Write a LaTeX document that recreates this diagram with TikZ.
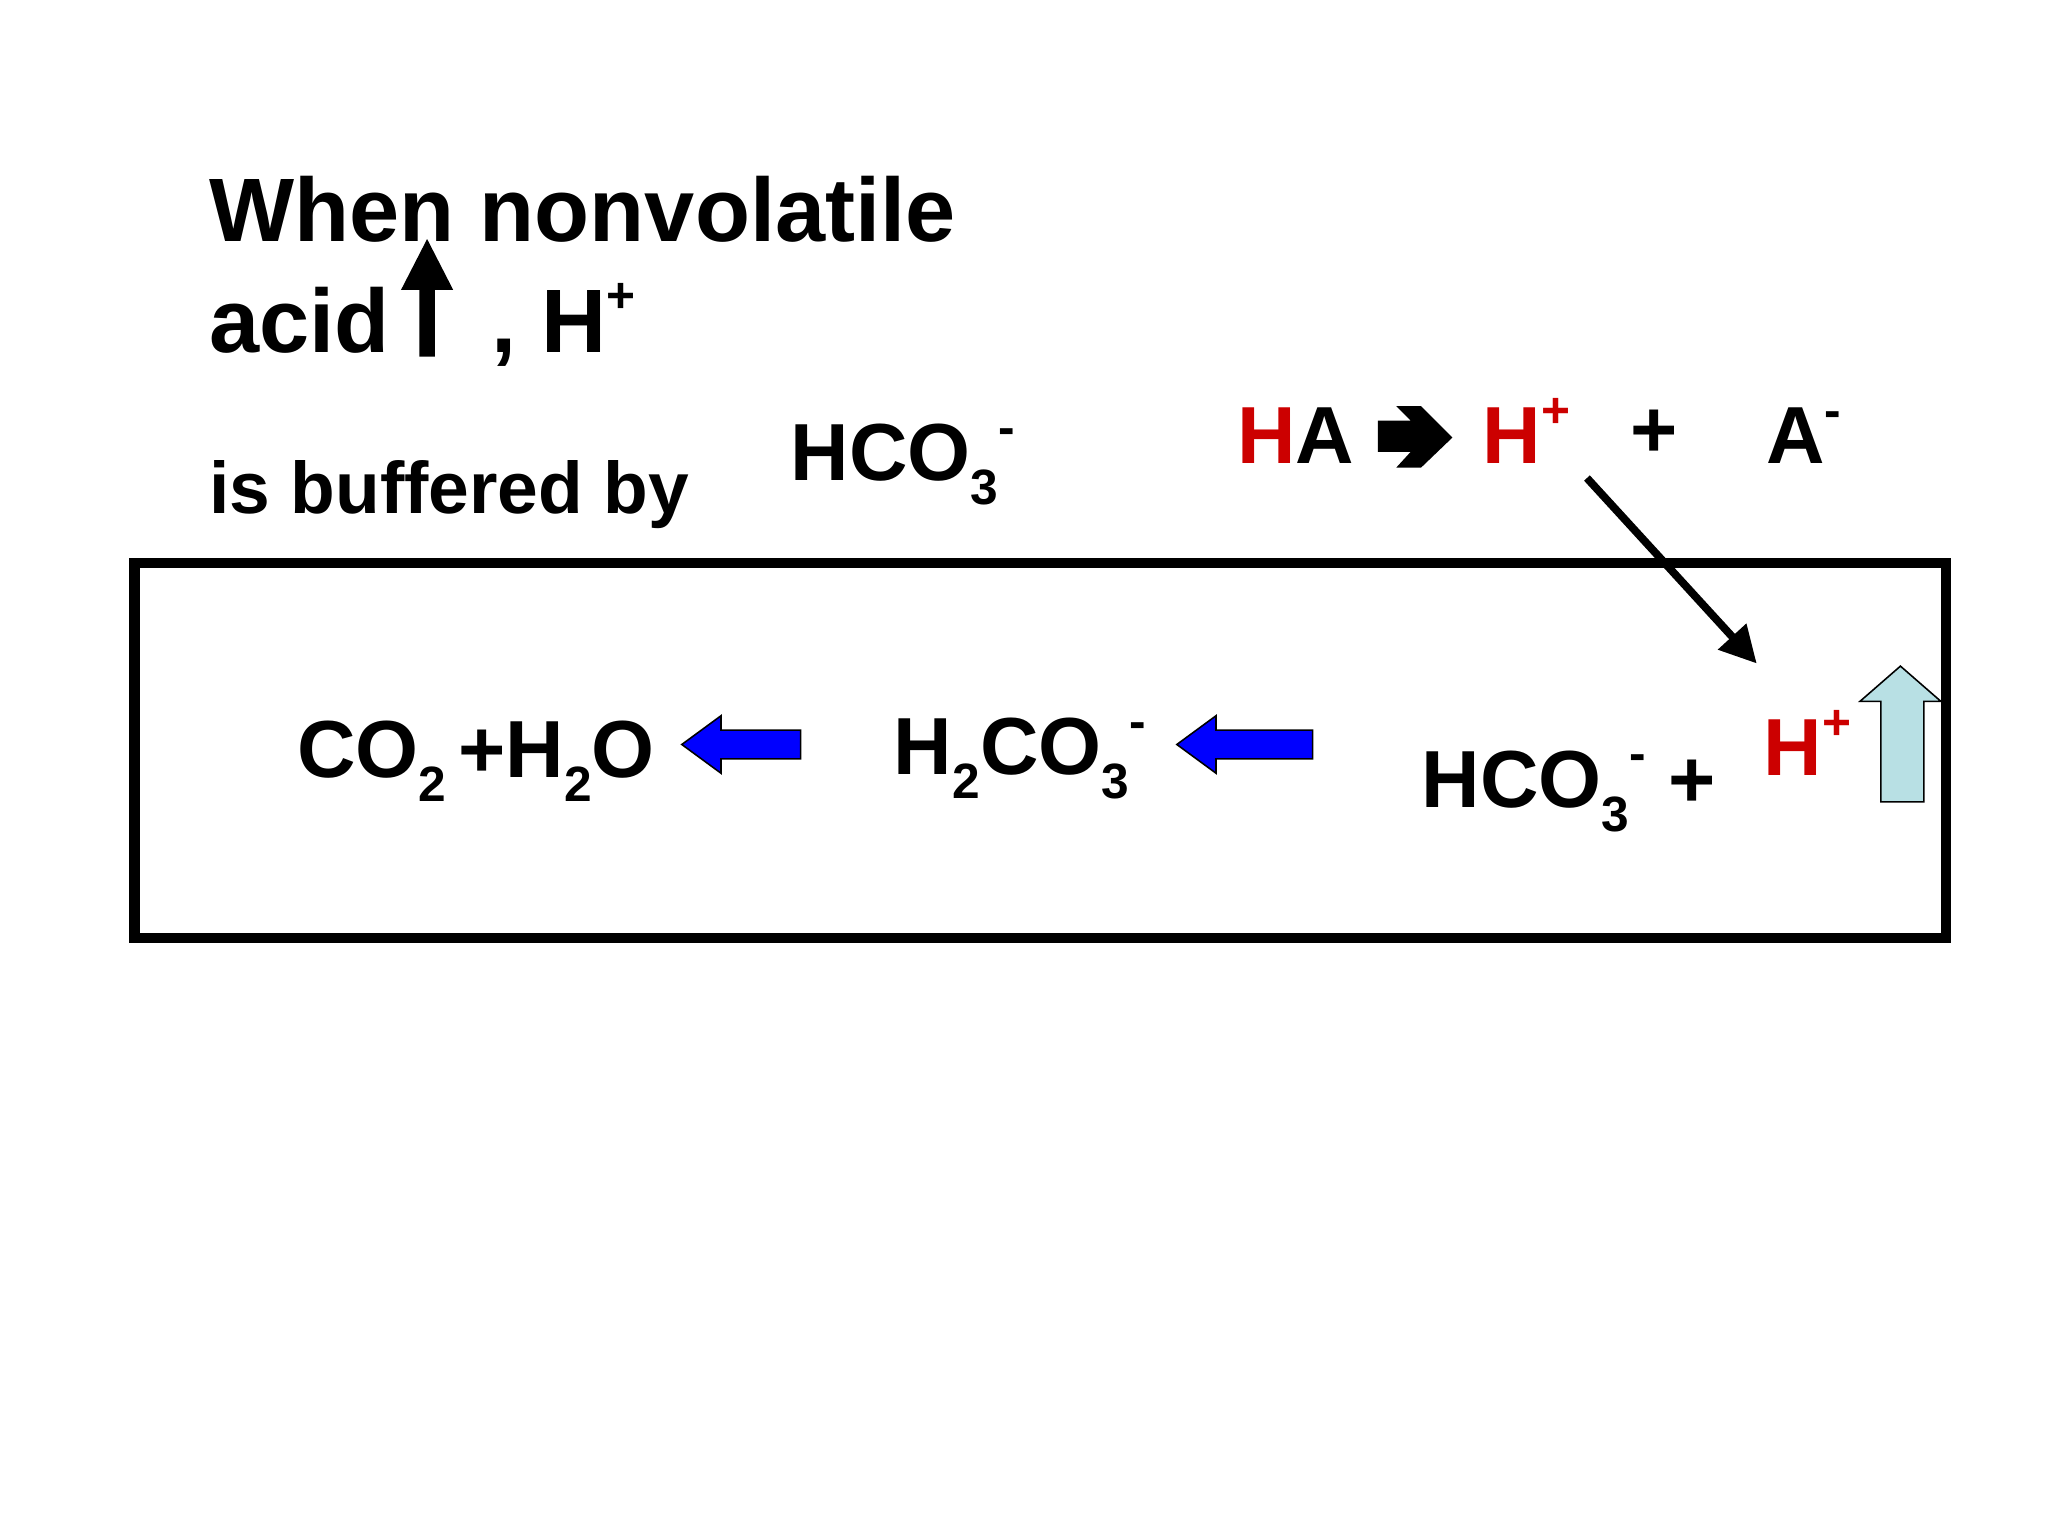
\documentclass[tikz,border=0pt]{standalone}
\usepackage{fontspec}
\usetikzlibrary{arrows.meta}
\setmainfont{Liberation Sans}
\newcommand\sbs[1]{\raisebox{-0.3em}{\fontsize{19}{19}\selectfont #1}}
\newcommand\sps[1]{\raisebox{0.45em}{\fontsize{19}{19}\selectfont #1}}
\begin{document}
\begin{tikzpicture}[x=0.5pt,y=-0.5pt,
  txt/.style={anchor=base west,inner sep=0,font=\bfseries\fontsize{31}{40}\selectfont},
  big/.style={txt,font=\bfseries\fontsize{34.5}{42}\selectfont},
  med/.style={txt,font=\bfseries\fontsize{28}{35}\selectfont},
  blk/.style={draw=black,fill=blue,line width=0.6pt}]
\useasboundingbox (0,0) rectangle (1568,1176);
\definecolor{hred}{RGB}{204,0,0}
\definecolor{lblue}{RGB}{184,224,228}
\node[big] (t1) at (160,185) {When nonvolatile};
\node[big] (t2) at (160,270) {acid};
\node[big] (t3) at (376,270) {, H\sps{+}};
\fill (321,273) -- (333,273) -- (333,222) -- (347,222) -- (327,183) -- (307,222) -- (321,222) -- cycle;
\node[med] (t4) at (160,393) {is buffered by};
\node[txt] (hco) at (605,368) {HCO\sbs{3}\sps{-}};
\node[txt] (ha) at (947,355) {\textcolor{hred}{H}A};
\fill (1055,322) -- (1080,322) -- (1069,311) -- (1088,311) -- (1112,335) -- (1088,358) -- (1069,358) -- (1080,346) -- (1055,346) -- cycle;
\node[txt] (hp) at (1135,355) {\textcolor{hred}{H\sps{+}}};
\node[txt] (pl) at (1248,350) {+};
\node[txt] (am) at (1352,355) {A\sps{-}};
\coordinate (s) at (1215,366);
\coordinate (e) at (1345,508);
\draw[line width=3pt,-{Triangle[length=14pt,width=14pt]}] (s) -- (e);
\draw[line width=4pt] (103,431) rectangle (1490,718);
\node[txt] (co2) at (227,595) {CO\sbs{2}\hspace{0.15em}+H\sbs{2}O};
\draw[blk] (522,570) -- (552,548) -- (552,559) -- (613,559) -- (613,581) -- (552,581) -- (552,592) -- cycle;
\node[txt] (h2co3) at (684,593) {H\sbs{2}CO\sbs{3}\sps{-}};
\draw[blk] (901,570) -- (931,548) -- (931,559) -- (1005,559) -- (1005,581) -- (931,581) -- (931,592) -- cycle;
\node[txt] (hco2) at (1088,618) {HCO\sbs{3}\sps{-} +};
\node[txt] (hp2) at (1350,594) {\textcolor{hred}{H\sps{+}}};
\draw[fill=lblue,line width=0.6pt] (1440,614) -- (1473,614) -- (1473,537) -- (1486,537) -- (1455,510) -- (1424,537) -- (1440,537) -- cycle;
\end{tikzpicture}
\end{document}
